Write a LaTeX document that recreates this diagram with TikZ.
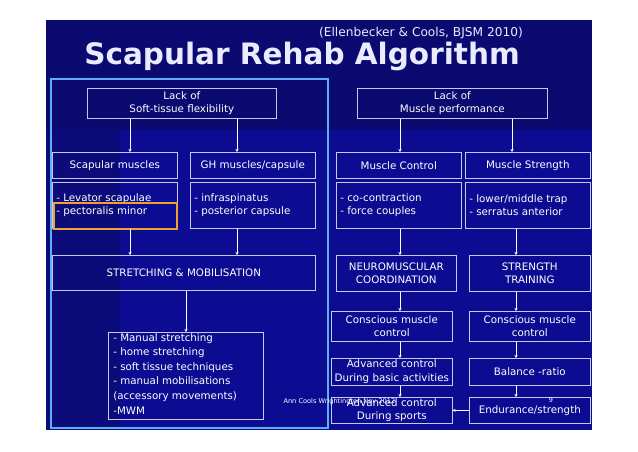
\documentclass[tikz,border=0pt]{standalone}
\usepackage{fontspec}
\setmainfont{DejaVu Sans}
\usetikzlibrary{arrows.meta}
\definecolor{navy}{HTML}{0A0A70}
\definecolor{navyb}{HTML}{0C0C92}
\definecolor{frame}{HTML}{5CB0F2}
\definecolor{boxline}{HTML}{C8C8EE}
\definecolor{orng}{HTML}{F0A030}
\tikzset{
  bx/.style={draw=boxline,line width=0.6pt,text=white,font=\fontsize{10.3}{13.5}\selectfont,align=center,inner sep=0pt},
  ar/.style={draw=white,line width=0.5pt,-{Stealth[length=3pt,width=3pt]}},
}
\newcommand{\bxat}[6]{\node[bx,minimum width=#4-#2,minimum height=#5-#3,anchor=north west] (#1) at (#2,#3) {#6};}
\begin{document}
\begin{tikzpicture}[x=1pt,y=-1pt]
\useasboundingbox (0,0) rectangle (638,451);
\fill[white] (0,0) rectangle (638,451);
\fill[navy] (46,20) rectangle (592,430);
\fill[navyb] (46,130) rectangle (592,430);
\fill[navy!70!navyb] (46,130) rectangle (120,430);
\node[text=white!92!blue,font=\fontsize{12.2}{14}\selectfont] (cite) at (421,33) {(Ellenbecker \& Cools, BJSM 2010)};
\node[text=white!92!blue,font=\bfseries\fontsize{29.5}{32}\selectfont] (title) at (302,56) {Scapular Rehab Algorithm};
\draw[frame,line width=2pt] (51,79) rectangle (328,428);
\bxat{lsoft}{87}{88}{276}{118}{Lack of\\Soft-tissue flexibility}
\bxat{lmus}{357}{88}{547}{118}{Lack of\\Muscle performance}
\bxat{scap}{52}{152}{177}{178}{Scapular muscles}
\bxat{gh}{190}{152}{315}{178}{GH muscles/capsule}
\bxat{mc}{336}{152}{461}{178}{Muscle Control}
\bxat{ms}{465}{152}{590}{178}{Muscle Strength}
\node[bx,minimum width=125,minimum height=46,anchor=north west] (scapl) at (52,182) {};
\node[bx,draw=none,align=left,anchor=west] (scapt) at (56,205) {- Levator scapulae\\- pectoralis minor};
\node[bx,minimum width=125,minimum height=46,anchor=north west] (ghl) at (190,182) {};
\node[bx,draw=none,align=left,anchor=west] (ght) at (194,205) {- infraspinatus\\- posterior capsule};
\node[bx,minimum width=125,minimum height=46,anchor=north west] (mcl) at (336,182) {};
\node[bx,draw=none,align=left,anchor=west] (mct) at (340,205) {- co-contraction\\- force couples};
\node[bx,minimum width=125,minimum height=46,anchor=north west] (msl) at (465,182) {};
\node[bx,draw=none,align=left,anchor=west] (mst) at (469,205) {- lower/middle trap\\- serratus anterior};
\draw[orng,line width=2.2pt] (54,203) rectangle (177,229);
\bxat{stretch}{52}{255}{315}{290}{STRETCHING \& MOBILISATION}
\bxat{neuro}{336}{255}{456}{291}{NEUROMUSCULAR\\COORDINATION}
\bxat{str}{469}{255}{590}{291}{STRENGTH\\TRAINING}
\node[bx,minimum width=155,minimum height=87,anchor=north west] (list) at (108,332) {};
\node[bx,draw=none,align=left,anchor=north west,font=\fontsize{10.3}{14.6}\selectfont] (listt) at (113,333) {- Manual stretching\\- home stretching\\- soft tissue techniques\\- manual mobilisations\\(accessory movements)\\-MWM};
\bxat{cc1}{331}{311}{452}{341}{Conscious muscle\\control}
\bxat{cc2}{469}{311}{590}{341}{Conscious muscle\\control}
\bxat{adv1}{331}{358}{452}{385}{Advanced control\\During basic activities}
\bxat{bal}{469}{358}{590}{385}{Balance -ratio}
\bxat{adv2}{331}{397}{452}{423}{Advanced control\\During sports}
\bxat{end}{469}{397}{590}{423}{Endurance/strength}
\node[text=white,font=\fontsize{6.6}{7}\selectfont,anchor=west] (foot) at (280,402) {Ann Cools Wrightington Nov 2012};
\node[text=white,font=\fontsize{6.5}{7}\selectfont] (pg) at (551,400) {9};
% arrows
\draw[ar] (lsoft.south -| 130,0) -- (scap.north -| 130,0);
\draw[ar] (lsoft.south -| 237,0) -- (gh.north -| 237,0);
\draw[ar] (lmus.south -| 400,0) -- (mc.north -| 400,0);
\draw[ar] (lmus.south -| 512,0) -- (ms.north -| 512,0);
\draw[ar] (scapl.south -| 130,0) -- (stretch.north -| 130,0);
\draw[ar] (ghl.south -| 237,0) -- (stretch.north -| 237,0);
\draw[ar] (mcl.south -| 400,0) -- (neuro.north -| 400,0);
\draw[ar] (msl.south -| 516,0) -- (str.north -| 516,0);
\draw[ar] (stretch.south -| 186,0) -- (list.north -| 186,0);
\draw[ar] (neuro.south -| 400,0) -- (cc1.north -| 400,0);
\draw[ar] (str.south -| 516,0) -- (cc2.north -| 516,0);
\draw[ar] (cc1.south -| 400,0) -- (adv1.north -| 400,0);
\draw[ar] (cc2.south -| 516,0) -- (bal.north -| 516,0);
\draw[ar] (adv1.south -| 400,0) -- (adv2.north -| 400,0);
\draw[ar] (bal.south -| 516,0) -- (end.north -| 516,0);
\draw[ar] (end.west) -- (adv2.east);
\end{tikzpicture}
\end{document}
